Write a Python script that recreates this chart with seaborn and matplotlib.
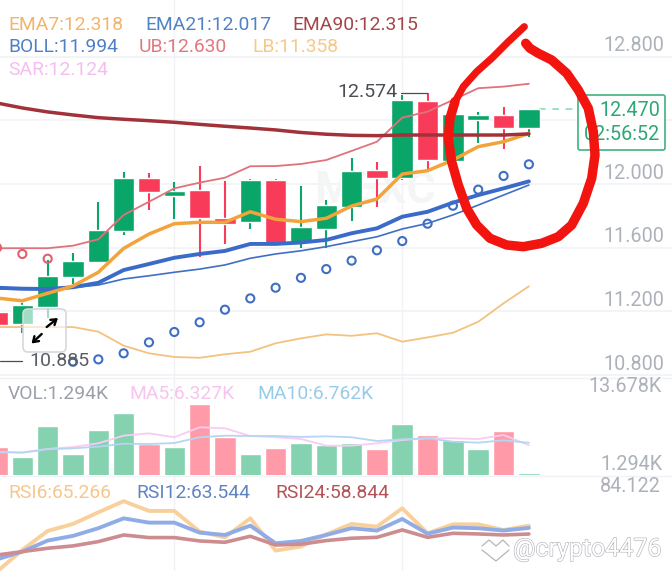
import numpy as np
import pandas as pd
import matplotlib
matplotlib.use('Agg')
import matplotlib.pyplot as plt
import matplotlib.patheffects as pe
from matplotlib.patches import FancyBboxPatch
import seaborn as sns

# candles, oldest first
opens = [11.195, 11.119, 11.23, 11.418, 11.51, 11.705, 12.038, 11.927, 11.963, 11.787, 11.76,
         12.025, 11.638, 11.718, 11.856, 12.088, 12.038, 12.52, 12.147, 12.402, 12.436, 12.354]
closes = [11.115, 11.24, 11.422, 11.519, 11.71, 12.036, 11.948, 11.958, 11.787, 11.75, 12.025,
          11.632, 11.728, 11.868, 12.082, 12.038, 12.526, 12.149, 12.438, 12.434, 12.35, 12.47]
highs = [11.2, 11.25, 11.523, 11.569, 11.885, 12.078, 12.068, 12.015, 12.115, 12.019, 12.034,
         12.034, 11.99, 11.898, 12.162, 12.14, 12.56, 12.574, 12.46, 12.451, 12.484, 12.47]
lows = [11.1, 11.065, 11.159, 11.372, 11.502, 11.682, 11.837, 11.78, 11.54, 11.624, 11.716,
        11.632, 11.6, 11.6, 11.77, 11.858, 12.025, 12.095, 12.13, 12.26, 12.218, 12.297]

ema7 = [11.284, 11.267, 11.314, 11.36, 11.446, 11.596, 11.686, 11.751, 11.76, 11.76, 11.826,
        11.779, 11.764, 11.785, 11.862, 11.906, 12.063, 12.084, 12.151, 12.235, 12.266, 12.318]
ema21 = [11.349, 11.343, 11.341, 11.352, 11.38, 11.46, 11.498, 11.537, 11.561, 11.58, 11.624,
         11.624, 11.633, 11.649, 11.691, 11.722, 11.795, 11.826, 11.883, 11.931, 11.973, 12.017]
ema90 = [12.509, 12.478, 12.453, 12.434, 12.417, 12.407, 12.398, 12.388, 12.375, 12.363, 12.352,
         12.34, 12.324, 12.313, 12.306, 12.304, 12.308, 12.308, 12.308, 12.308, 12.308, 12.315]
boll = [11.341, 11.338, 11.338, 11.35, 11.366, 11.404, 11.424, 11.446, 11.466, 11.492, 11.534,
        11.561, 11.581, 11.607, 11.638, 11.669, 11.718, 11.753, 11.806, 11.868, 11.931, 11.994]
ub = [11.597, 11.597, 11.597, 11.613, 11.653, 11.806, 11.889, 11.973, 12.009, 12.04, 12.112,
      12.113, 12.126, 12.151, 12.208, 12.266, 12.417, 12.455, 12.528, 12.602, 12.612, 12.63]
lb = [11.102, 11.102, 11.102, 11.102, 11.073, 10.985, 10.937, 10.914, 10.909, 10.931, 10.947,
      11.0, 11.031, 11.056, 11.047, 11.063, 11.01, 11.037, 11.066, 11.135, 11.251, 11.358]
sar = [11.6, 11.561, 11.531, 10.884, 10.899, 10.937, 11.006, 11.071, 11.132, 11.211, 11.282,
       11.349, 11.411, 11.466, 11.519, 11.584, 11.642, 11.751, 11.864, 11.965, 12.051, 12.124]

vol = [6.07, 4.17, 9.73, 4.81, 9.01, 12.12, 6.5, 6.07, 13.678, 7.76, 4.81,
       5.89, 6.68, 6.37, 6.68, 5.66, 10.09, 8.17, 7.27, 5.66, 8.94, 1.294]
ma5 = [5.06, 5.06, 5.66, 6.01, 6.68, 8.05, 8.47, 7.76, 9.55, 9.37, 7.99,
       7.76, 7.45, 6.25, 6.25, 6.68, 7.27, 7.58, 7.58, 7.45, 8.17, 6.327]
ma10 = [5.17, 4.99, 5.6, 5.78, 6.07, 6.61, 6.55, 6.73, 7.76, 8.05, 7.99,
        7.99, 7.82, 7.93, 7.76, 7.09, 7.4, 7.58, 6.97, 6.79, 7.22, 6.762]

rsi6 = [29.9, 46.6, 61.2, 66.6, 75.5, 84.122, 76.6, 76.6, 60.7, 56.3, 70.9,
        46.1, 49.2, 58.6, 66.6, 64.5, 78.6, 59.4, 66.3, 66.3, 61.9, 65.266]
rsi12 = [39.4, 45.3, 53.8, 57.4, 63.3, 70.9, 67.6, 67.6, 59.9, 58.1, 65.3,
         51.7, 53.5, 58.1, 63.3, 61.5, 70.4, 59.1, 63.8, 63.3, 61.5, 63.544]
rsi24 = [42.7, 45.3, 47.9, 49.7, 53.0, 58.1, 56.1, 56.1, 53.5, 52.5, 57.1,
         50.4, 51.0, 53.8, 55.6, 56.3, 62.0, 56.3, 59.4, 58.9, 58.1, 58.844]

price_ticks = [12.8, 12.4, 12.0, 11.6, 11.2, 10.8]
price_labels = ['12.800', '', '12.000', '11.600', '11.200', '10.800']

# hand drawn red circle, picture pixels
scribble_x = [524.3, 508.3, 491.7, 476.7, 463.3, 455, 450, 448.3, 451.7, 458.3, 466.7, 476.7, 490, 506.7,
              523.3, 541.7, 558.3, 571.7, 583.3, 591.7, 595, 593.3, 588.3, 578.3, 566.7, 551.7, 538.3,
              530, 525.7]
scribble_y = [26.7, 41.7, 58.3, 71.7, 86.7, 101.7, 118.3, 138.3, 161.7, 185, 208.3, 225, 238.3, 245,
              246.7, 243.3, 236.7, 225, 203.3, 178.3, 155, 131.7, 108.3, 90, 73.3, 60, 53.3,
              48.3, 43.3]

W, H = 672, 571
GREEN, RED = '#0aa568', '#f93b5a'
GREY = '#adb1ba'
GRID = '#f0f2f5'

idx = np.arange(len(closes))
df = pd.DataFrame({'idx': idx, 'open': opens, 'close': closes, 'high': highs, 'low': lows,
                   'vol': vol})
df['dir'] = np.where(df['close'] >= df['open'], 'up', 'down')

sns.set_theme(style='white')
plt.rcParams['font.family'] = ['Roboto', 'DejaVu Sans']

fig = plt.figure(figsize=(W / 100, H / 100), dpi=100, facecolor='white')


def panel(top, bottom):
    a = fig.add_axes([0, 1 - bottom / H, 1, (bottom - top) / H])
    a.set_axis_off()
    a.set_xlim(0.118, 26.65)
    for g in (7, 16):
        a.axvline(g, color=GRID, lw=1, zorder=0)
    return a


ax = panel(0, 378)
ax.set_ylim(10.782, 13.156)
for t in price_ticks:
    ax.axhline(t, color=GRID, lw=1.2, zorder=0)

ax.text(14.9, 11.956, 'MEXC', color='#f4f6f5', fontsize=32, fontweight='bold', ha='center',
        va='center', zorder=1)

for _, row in df.iterrows():
    c = GREEN if row['dir'] == 'up' else RED
    ax.vlines(row['idx'], row['low'], row['high'], color=c, lw=1.5, zorder=2)
up = df[df['dir'] == 'up']
down = df[df['dir'] == 'down']
ax.bar(up['idx'], up['close'] - up['open'], bottom=up['open'], width=0.85, color=GREEN, zorder=3)
ax.bar(down['idx'], down['open'] - down['close'], bottom=down['close'], width=0.85, color=RED, zorder=3)

for vals, col, lw in [(lb, '#f3c27e', 1.3), (ub, '#e0727c', 1.3), (boll, '#3f6fc4', 1.2),
                      (ema21, '#3a6bc9', 2.8), (ema7, '#f2a33c', 2.5), (ema90, '#a23239', 2.5)]:
    sns.lineplot(x=idx, y=vals, ax=ax, color=col, lw=lw, estimator=None, zorder=5, legend=False)

sar_dir = ['#e0606e' if v > e else '#3f6fc4' for v, e in zip(sar, ema7)]
sns.scatterplot(x=idx, y=sar, ax=ax, s=34, facecolor='none', edgecolor=sar_dir, linewidth=1.5,
                zorder=6, legend=False)
ax.plot([21.4, 24.0], [12.47, 12.47], color='#8ddcb8', lw=1.2, ls=(0, (4, 4)), zorder=2)

# volume
ax_v = panel(378, 475.3)
sns.barplot(data=df, x='idx', y='vol', hue='dir', palette={'up': '#84d2b0', 'down': '#ff9ba9'},
            native_scale=True, dodge=False, width=0.85, saturation=1, legend=False, ax=ax_v, zorder=2)
ax_v.set_axis_off()
ax_v.set_xlim(0.118, 26.65)
ax_v.set_ylim(0.934, 18.4)
sns.lineplot(x=idx, y=ma5, ax=ax_v, color='#f8cdf2', lw=1.3, zorder=4)
sns.lineplot(x=idx, y=ma10, ax=ax_v, color='#b5d6f2', lw=1.3, zorder=4)

# rsi
ax_r = panel(475.3, 571)
ax_r.set_ylim(30.4, 104.0)
sns.lineplot(x=idx, y=rsi6, ax=ax_r, color='#f9d09b', lw=2.8, zorder=3)
sns.lineplot(x=idx, y=rsi12, ax=ax_r, color='#90ace6', lw=2.8, zorder=4)
sns.lineplot(x=idx, y=rsi24, ax=ax_r, color='#cd8c90', lw=2.6, zorder=5)

# everything else sits on a pixel overlay
ov = fig.add_axes([0, 0, 1, 1], facecolor='none')
ov.set_axis_off()
ov.set_xlim(0, W)
ov.set_ylim(H, 0)
ov.axhline(378, color=GRID, lw=1)
ov.axhline(475.5, color=GRID, lw=1)


def label(x, y, s, color, size=13.9, ha='left', **kw):
    ov.text(x, y, s, color=color, fontsize=size, ha=ha, va='center', **kw)


for x, y, s, c in [(8, 25, 'EMA7:12.318', '#f3b46b'), (145, 25, 'EMA21:12.017', '#4f83c6'),
                   (292, 25, 'EMA90:12.315', '#a5454a'), (8, 47, 'BOLL:11.994', '#4f7fc6'),
                   (139, 47, 'UB:12.630', '#e2767f'), (252, 47, 'LB:11.358', '#f6c987'),
                   (8, 70, 'SAR:12.124', '#f5bdee'), (8, 394, 'VOL:1.294K', '#9a9fa9'),
                   (129, 394, 'MA5:6.327K', '#f6c4ee'), (257, 394, 'MA10:6.762K', '#98cbea'),
                   (8, 493, 'RSI6:65.266', '#f6c68d'), (136, 493, 'RSI12:63.544', '#5f83c2'),
                   (275, 493, 'RSI24:58.844', '#b25358')]:
    label(x, y, s, c)

for t, s in zip(price_ticks, price_labels):
    if s:
        y = 56.7 + (12.8 - t) * 159.2
        label(664, y - 11, s, GREY, size=14.2, ha='right')
label(662, 387, '13.678K', GREY, size=14.2, ha='right')
label(662, 465, '1.294K', GREY, size=14.2, ha='right')
label(661, 486, '84.122', GREY, size=14.2, ha='right')

label(337, 92, '12.574', '#4a4d55', size=14)
ov.plot([401, 427], [92.5, 92.5], color='#4a4d55', lw=0.9)
label(29, 361, '10.885', '#5a5d64', size=14)
ov.plot([0, 22], [361, 361], color='#4a4d55', lw=0.9)

ov.add_patch(FancyBboxPatch((578, 95), 87, 55, boxstyle='round,pad=0,rounding_size=2',
                            fc='white', ec='#3fb27f', lw=1.2, zorder=3))
label(660, 110, '12.470', '#2ba874', size=14.2, ha='right', zorder=4)
label(660, 135, '02:56:52', '#2ba874', size=14.2, ha='right', zorder=4)

# expand button
ov.add_patch(FancyBboxPatch((25, 311), 39, 39, boxstyle='round,pad=2,rounding_size=5',
                            fc=(1, 1, 1, 0.62), ec='#d5d8de', lw=1.2, zorder=3))
for a, b in [((46.7, 327), (58, 318)), ((41.7, 334), (31.5, 343.5))]:
    ov.annotate('', xy=b, xytext=a, zorder=4,
                arrowprops=dict(arrowstyle='->,head_length=0.3,head_width=0.2', color='black', lw=1.7,
                                shrinkA=0, shrinkB=0))

# the stroke starts thin at the top and gets heavier
ov.plot(scribble_x[:6], scribble_y[:6], color='#f2140f', lw=5.2, solid_capstyle='round',
        solid_joinstyle='round', zorder=6)
ov.plot(scribble_x[5:], scribble_y[5:], color='#f2140f', lw=6.8, solid_capstyle='round',
        solid_joinstyle='round', zorder=6)

# watermark
ov.text(513, 549, '@crypto4476', color='white', fontsize=18, va='center', zorder=7,
        path_effects=[pe.withStroke(linewidth=0.9, foreground='#b4b6bb')])
ov.plot([482, 489, 496, 503, 509], [546, 540, 546, 540, 546], color='#b4b6bb', lw=0.9, zorder=7)
ov.plot([482, 496, 509], [550, 561, 550], color='#b4b6bb', lw=0.9, zorder=7)

fig.savefig('out.png', dpi=100)
